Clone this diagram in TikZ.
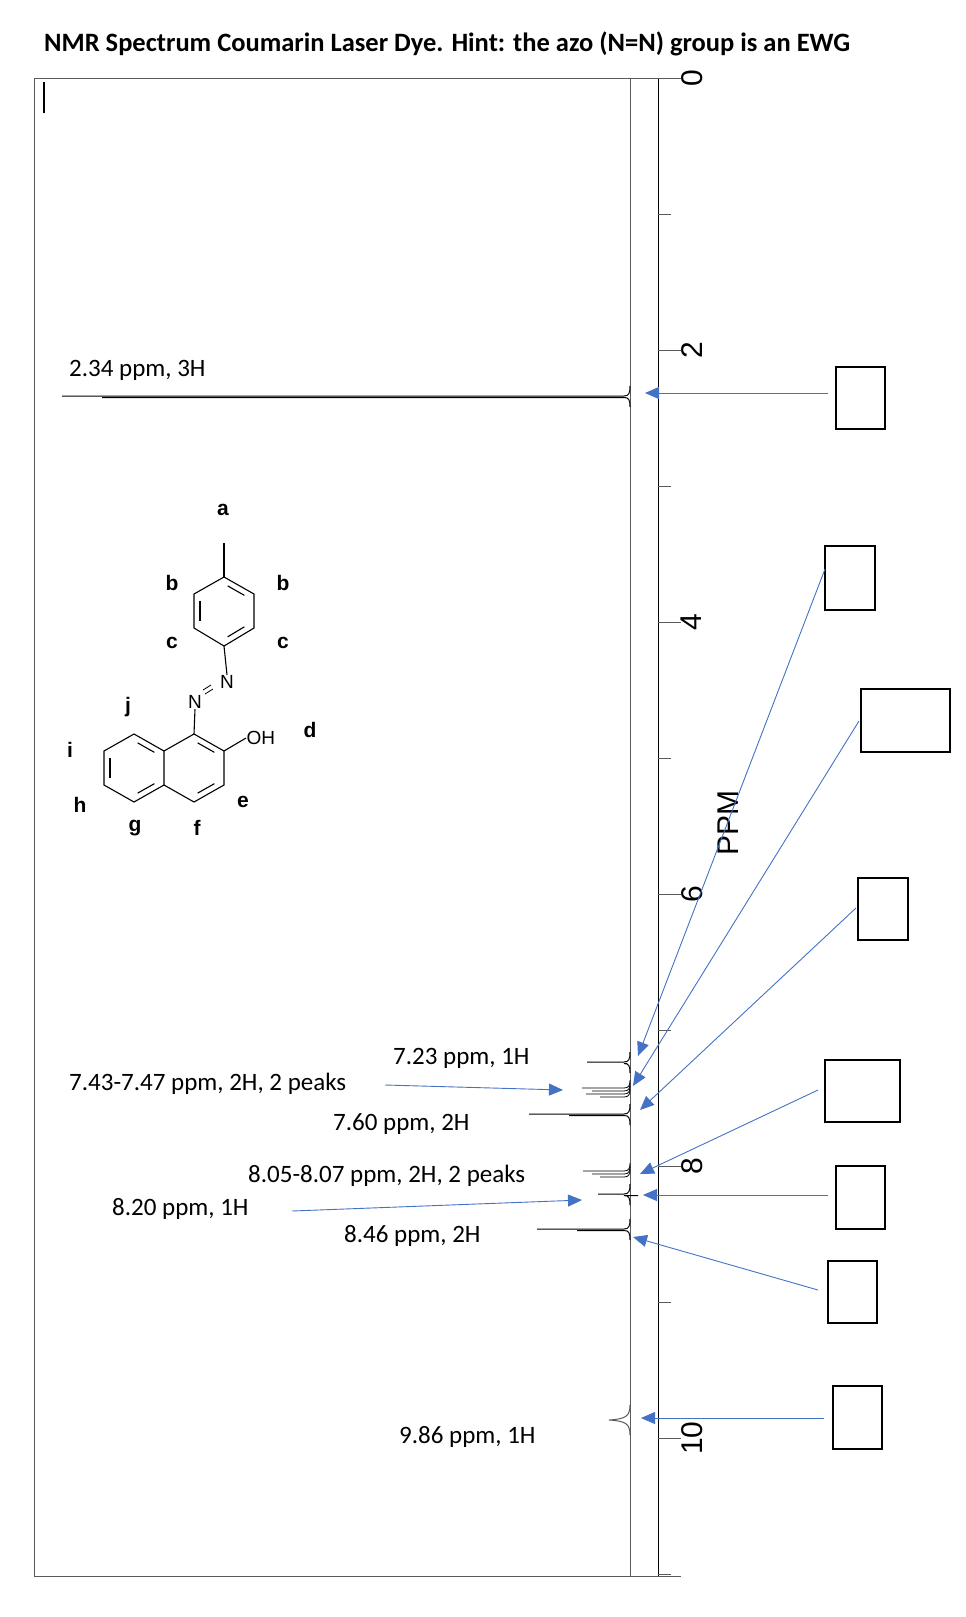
\documentclass[tikz,border=0pt]{standalone}
\usepackage{fontspec}
\setmainfont{Carlito}
\newfontfamily\arialf{Liberation Sans}
\usetikzlibrary{arrows.meta,calc}
\definecolor{arrblue}{RGB}{68,114,196}
\definecolor{specgray}{RGB}{90,90,90}
\tikzset{
  lbl/.style={anchor=west,inner sep=0pt,font=\fontsize{25}{28}\selectfont},
  ansbox/.style={draw=black,line width=2pt,inner sep=0pt},
  bluearr/.style={draw=arrblue,line width=0.9pt,-{Triangle[length=14pt,width=12pt]}},
  axnum/.style={font=\arialf\fontsize{30}{30}\selectfont,rotate=90,inner sep=0pt},
  mlbl/.style={font=\arialf\bfseries\fontsize{21}{21}\selectfont,inner sep=0pt},
  atom/.style={font=\arialf\fontsize{19}{19}\selectfont,inner sep=0.5pt},
  bond/.style={line width=1.1pt},
  peak/.style={line width=1pt,draw=black}
}
\newcommand\innerdb[3]{\draw[bond] ($(#1)!0.15!(#2)!0.2!(#3)$) -- ($(#2)!0.15!(#1)!0.2!(#3)$);}
\begin{document}
\begin{tikzpicture}[x=1pt,y=-1pt]
\useasboundingbox (0,0) rectangle (966,1617);
% title
\node[anchor=west,inner sep=0pt,font=\bfseries\fontsize{26.5}{30}\selectfont] (title) at (44,44) {NMR Spectrum Coumarin Laser Dye. Hint: the azo (N=N) group is an EWG};
% frame
\draw[line width=0.9pt,draw=specgray] (681,78) -- (34,78) -- (34,1576) -- (681,1576);
\draw[line width=1.5pt] (44,82) -- (44,113);
% spectrum baseline
\draw[line width=1pt,draw=specgray] (630,78) -- (630,1576);
% axis
\draw[line width=1pt] (658,78) -- (658,1576);
\foreach \p in {0,2,4,6,8,10} {
  \draw[line width=0.9pt,draw=specgray] (658,{78+136*\p}) -- (681,{78+136*\p});
  \node[axnum,anchor=north] (ax\p) at (681,{78+136*\p}) {\p};
}
\foreach \p in {1,3,5,7,9,11} \draw[line width=0.9pt,draw=specgray] (658,{78+136*\p}) -- (671,{78+136*\p});
\node[axnum,anchor=north] (ppm) at (718,823) {PPM};
% peaks
\foreach \y/\xl in {396/62,1062/587,1114/529,1194/598,1229/537} {
  \draw[peak] (\xl,\y) -- (624,\y) .. controls (629,\y) and (630,\y-3) .. (630,\y-10);
  \draw[peak] (\xl+40,\y+1.5) -- (624,\y+1.5) .. controls (629,\y+1.5) and (630,\y+4) .. (630,\y+11);
}
\foreach \y/\xl in {1088/582,1091/592,1094/586,1097/600,1171/583,1174/592,1177/600} {
  \draw[peak,line width=0.8pt] (\xl,\y) -- (624,\y) .. controls (629,\y) and (630,\y-3) .. (630,\y-8);
}
\draw[peak,draw=specgray] (630,1405) .. controls (630,1416) and (626,1419) .. (609,1420) .. controls (626,1421) and (630,1424) .. (630,1435);
% labels
\node[lbl] (l1) at (69,370) {2.34 ppm, 3H};
\node[lbl] (l2) at (393,1058) {7.23 ppm, 1H};
\node[lbl] (l3) at (69,1084) {7.43-7.47 ppm, 2H, 2 peaks};
\node[lbl] (l4) at (333,1124) {7.60 ppm, 2H};
\node[lbl] (l5) at (248,1176) {8.05-8.07 ppm, 2H, 2 peaks};
\node[lbl] (l6) at (112,1209) {8.20 ppm, 1H};
\node[lbl] (l7) at (344,1236) {8.46 ppm, 2H};
\node[lbl] (l8) at (399,1437) {9.86 ppm, 1H};
\coordinate (t3) at (563,1090);
\coordinate (t6) at (582,1200);
\draw[bluearr] (385,1085) -- (t3);
\draw[bluearr] (292,1211) -- (t6);
% answer boxes
\node[ansbox,minimum width=49pt,minimum height=62pt] (b1) at (860,398) {};
\node[ansbox,minimum width=50pt,minimum height=64pt] (b2) at (850,578) {};
\node[ansbox,minimum width=89pt,minimum height=63pt] (b3) at (905,720) {};
\node[ansbox,minimum width=50pt,minimum height=62pt] (b4) at (883,909) {};
\node[ansbox,minimum width=75pt,minimum height=62pt] (b5) at (862,1091) {};
\node[ansbox,minimum width=49pt,minimum height=63pt] (b6) at (860,1197) {};
\node[ansbox,minimum width=49pt,minimum height=62pt] (b7) at (852,1292) {};
\node[ansbox,minimum width=49pt,minimum height=63pt] (b8) at (857,1417) {};
\coordinate (p1) at (645,393);
\coordinate (p2) at (638,1056);
\coordinate (p3) at (633,1086);
\coordinate (p4) at (640,1110);
\coordinate (p5) at (640,1174);
\coordinate (p6) at (643,1195);
\coordinate (p7) at (633,1237);
\coordinate (p8) at (641,1418);
\draw[bluearr] (828,393) -- (p1);
\draw[bluearr] (825,569) -- (p2);
\draw[bluearr] (859,721) -- (p3);
\draw[bluearr] (856,908) -- (p4);
\draw[bluearr] (818,1090) -- (p5);
\draw[bluearr] (828,1195) -- (p6);
\draw[bluearr] (818,1290) -- (p7);
\draw[bluearr] (824,1418) -- (p8);
% molecule: tolyl ring
\coordinate (m0) at (224,543);
\coordinate (r1) at (224,577); \coordinate (r2) at (254,594); \coordinate (r3) at (254,628);
\coordinate (r4) at (224,646); \coordinate (r5) at (194,628); \coordinate (r6) at (194,594);
\coordinate (rc) at (224,611);
\draw[bond] (m0) -- (r1);
\draw[bond] (r1) -- (r2) -- (r3) -- (r4) -- (r5) -- (r6) -- cycle;
\innerdb{r6}{r5}{rc}
\innerdb{r1}{r2}{rc}
\innerdb{r3}{r4}{rc}
% azo
\node[atom] (na) at (227,682) {N};
\node[atom] (nb) at (195,702) {N};
\draw[bond] (r4) -- (na.north);
\draw[line width=0.8pt] (205,694) -- (213,689);
\draw[line width=0.8pt] (203,690) -- (211,685);
% naphthalene
\coordinate (c1) at (194,734); \coordinate (c2) at (224,751); \coordinate (c3) at (224,785);
\coordinate (c4) at (194,802); \coordinate (c4a) at (164,785); \coordinate (c8a) at (164,751);
\coordinate (c8) at (134,734); \coordinate (c7) at (104,751); \coordinate (c6) at (104,785);
\coordinate (c5) at (134,802);
\coordinate (rcR) at (194,768); \coordinate (rcL) at (134,768);
\draw[bond] (nb.south) -- (c1);
\draw[bond] (c1) -- (c2) -- (c3) -- (c4) -- (c4a) -- (c8a) -- cycle;
\draw[bond] (c8a) -- (c8) -- (c7) -- (c6) -- (c5) -- (c4a);
\innerdb{c1}{c2}{rcR}
\innerdb{c3}{c4}{rcR}
\innerdb{c8}{c8a}{rcL}
\innerdb{c7}{c6}{rcL}
\innerdb{c5}{c4a}{rcL}
\node[atom,anchor=west] (oh) at (246,738) {OH};
\draw[bond] (c2) -- (oh.west);
% proton labels
\node[mlbl] (la) at (223,510) {a};
\node[mlbl] (lb1) at (172,583) {b};
\node[mlbl] (lb2) at (283,583) {b};
\node[mlbl] (lc1) at (172,643) {c};
\node[mlbl] (lc2) at (283,643) {c};
\node[mlbl] (lj) at (128,707) {j};
\node[mlbl] (ld) at (310,730) {d};
\node[mlbl] (li) at (70,750) {i};
\node[mlbl] (lh) at (80,805) {h};
\node[mlbl] (le) at (243,802) {e};
\node[mlbl] (lg) at (135,828) {g};
\node[mlbl] (lf) at (197,828) {f};
\end{tikzpicture}
\end{document}
